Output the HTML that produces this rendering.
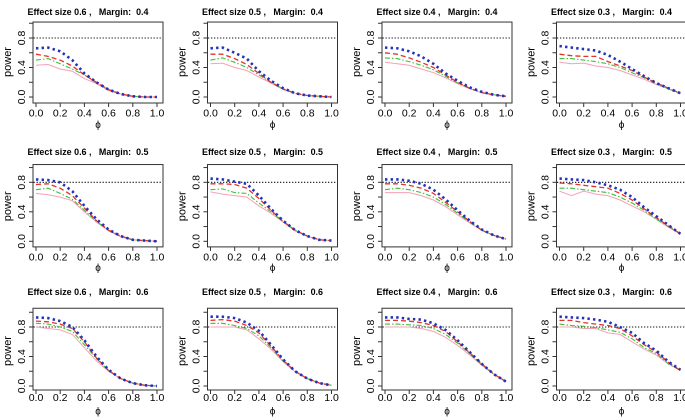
<!DOCTYPE html>
<html><head><meta charset="utf-8"><style>
html,body{margin:0;padding:0;background:#fff;}
svg{display:block;font-family:"Liberation Sans",Arial,sans-serif;}
.ttl{white-space:pre;}
</style></head><body>
<svg id="chart" width="685" height="420" viewBox="0 0 685 420" xmlns="http://www.w3.org/2000/svg"></svg>
<script>
const phiValues = [0,0.1,0.2,0.3,0.4,0.5,0.6,0.7,0.8,0.9,1.0];
const effectSizes = ["0.6","0.5","0.4","0.3"];
const margins = ["0.4","0.5","0.6"];
const xTicks = [0,0.2,0.4,0.6,0.8,1.0];
const xTickLabels = ["0.0","0.2","0.4","0.6","0.8","1.0"];
const yTicks = [0,0.2,0.4,0.6,0.8,1.0];
const yLabelTicks = [0,0.4,0.8];
const yTickLabels = ["0.0","0.4","0.8"];
const targetPower = 0.8;
// each panel: [blue, red, green, pink]
const p1 = [[.66,.67,.62,.5,.32,.2,.1,.04,.01,0,0],[.58,.55,.5,.42,.3,.2,.1,.04,.01,0,0],[.5,.52,.45,.38,.3,.19,.1,.04,.01,0,0],[.43,.44,.38,.35,.25,.18,.09,.04,.01,0,0]];
const p2 = [[.66,.67,.6,.52,.35,.22,.12,.05,.02,.01,0],[.58,.58,.52,.44,.32,.2,.11,.05,.02,.01,0],[.5,.53,.47,.4,.3,.2,.11,.05,.02,.01,0],[.45,.46,.4,.36,.27,.19,.1,.05,.02,.01,0]];
const p3 = [[.67,.66,.62,.55,.45,.32,.22,.13,.07,.03,.01],[.6,.58,.53,.47,.4,.3,.2,.12,.06,.03,.01],[.53,.52,.48,.43,.37,.28,.19,.12,.06,.03,.01],[.47,.45,.43,.38,.33,.26,.18,.11,.06,.03,.01]];
const p4 = [[.69,.67,.65,.63,.57,.48,.38,.28,.19,.12,.05],[.58,.56,.55,.55,.48,.42,.36,.27,.19,.12,.05],[.52,.52,.5,.48,.45,.4,.33,.26,.18,.11,.05],[.47,.45,.46,.42,.4,.36,.3,.24,.17,.11,.05]];
const p5 = [[.84,.83,.8,.68,.48,.3,.16,.07,.02,.01,0],[.77,.78,.72,.62,.45,.28,.15,.07,.02,.01,0],[.7,.72,.65,.57,.42,.27,.15,.07,.02,.01,0],[.65,.63,.6,.55,.4,.26,.14,.06,.02,.01,0]];
const p6 = [[.85,.84,.81,.78,.62,.44,.28,.15,.07,.02,.01],[.78,.78,.77,.72,.58,.42,.27,.15,.07,.02,.01],[.7,.71,.66,.65,.52,.4,.27,.15,.07,.02,.01],[.67,.64,.62,.6,.48,.38,.26,.14,.07,.02,.01]];
const p7 = [[.84,.84,.82,.78,.7,.57,.42,.28,.16,.08,.03],[.78,.78,.76,.72,.65,.53,.4,.27,.15,.08,.03],[.7,.72,.7,.66,.6,.5,.38,.26,.15,.08,.03],[.66,.66,.66,.62,.56,.47,.36,.25,.15,.08,.03]];
const p8 = [[.85,.84,.83,.8,.76,.7,.6,.46,.34,.22,.1],[.79,.78,.76,.74,.72,.65,.56,.44,.32,.21,.1],[.72,.72,.7,.68,.66,.6,.52,.42,.3,.2,.1],[.68,.62,.68,.64,.62,.56,.48,.4,.3,.19,.1]];
const p9 = [[.93,.92,.88,.8,.62,.4,.22,.1,.04,.01,0],[.88,.87,.84,.78,.6,.38,.21,.1,.04,.01,0],[.85,.84,.8,.74,.56,.37,.21,.1,.04,.01,0],[.8,.78,.76,.7,.52,.34,.2,.1,.04,.01,0]];
const p10 = [[.94,.94,.92,.86,.75,.56,.36,.2,.1,.04,.01],[.89,.9,.88,.82,.72,.54,.35,.2,.1,.04,.01],[.85,.85,.82,.78,.68,.52,.34,.2,.1,.04,.01],[.8,.8,.8,.76,.64,.5,.33,.19,.1,.04,.01]];
const p11 = [[.93,.93,.91,.9,.85,.76,.62,.46,.3,.16,.06],[.89,.89,.88,.86,.82,.74,.6,.45,.3,.16,.06],[.84,.84,.83,.82,.78,.7,.58,.44,.29,.16,.06],[.8,.8,.8,.78,.74,.66,.55,.42,.28,.16,.06]];
const p12 = [[.94,.93,.92,.9,.87,.8,.72,.58,.48,.33,.22],[.89,.89,.86,.84,.82,.78,.68,.56,.46,.32,.21],[.84,.82,.81,.79,.76,.73,.64,.52,.44,.3,.21],[.8,.8,.78,.78,.72,.7,.6,.5,.42,.3,.21]];
const panels = [p1,p2,p3,p4,p5,p6,p7,p8,p9,p10,p11,p12];
const seriesNames = ["blue-dotted","red-dashed","green-dotdash","pink-solid"];

const styles = [
  {stroke:"#2233bb",w:2.6,dash:"2.4,3.2"},
  {stroke:"#e8302a",w:1.3,dash:"5,3"},
  {stroke:"#3cbf3c",w:1.1,dash:"5,2,1.5,2"},
  {stroke:"#f7a0b4",w:1.0,dash:""}
];
const NS="http://www.w3.org/2000/svg";
const svg=document.getElementById('chart');
function mk(tag,attrs,parent){const e=document.createElementNS(NS,tag);for(const k in attrs)e.setAttribute(k,attrs[k]);(parent||svg).appendChild(e);return e;}
const colW=174.5, plotOff=[0,144.3,289], titleOff=[0,140,280];
const topPad=[1.2,3,4], botPad=[6,5.6,4], lblDy=[19.5,19.2,14.8], phiDy=[31,29.5,28.5];
panels.forEach((data,i)=>{
  const r=Math.floor(i/4), c=i%4;
  const ox=c*colW, oy=plotOff[r];
  const g=mk('g',{});
  
  
  const sx=v=>ox+36+v*121;
  const sy=v=>oy+97-v*73.75;
  const t=mk('text',{x:ox+88,y:titleOff[r]+15,'text-anchor':'middle','font-size':'9.5','font-weight':'bold','class':'ttl',textLength:'121',lengthAdjust:'spacingAndGlyphs'},g);
  t.textContent='Effect size '+effectSizes[c]+' ,   Margin:  '+margins[r];
  
  
  const top=sy(1)-topPad[r], bot=sy(0)+botPad[r];
  const box=mk('rect',{x:ox+33,y:top,width:130,height:bot-top,fill:'none',stroke:'#333','stroke-width':1},g);
  
  
  yTicks.forEach(v=>{mk('line',{x1:ox+33,x2:ox+29,y1:sy(v),y2:sy(v),stroke:'#333'},g);});
  yLabelTicks.forEach((v,k)=>{
    const tl=mk('text',{x:0,y:0,'font-size':'10.5','text-anchor':'middle',transform:`translate(${ox+25},${sy(v)}) rotate(-90)`},g);
    tl.textContent=yTickLabels[k];
    
    
  });
  xTicks.forEach((v,k)=>{
    mk('line',{x1:sx(v),x2:sx(v),y1:bot,y2:bot+4,stroke:'#333'},g);
    const tl=mk('text',{x:sx(v),y:sy(0)+lblDy[r],'font-size':'10.5','text-anchor':'middle'},g);
    tl.textContent=xTickLabels[k];
    
    
  });
  const xl=mk('text',{x:ox+98,y:sy(0)+phiDy[r],'font-size':'10','text-anchor':'middle'},g);
  xl.textContent='ϕ';
  
  
  const yl=mk('text',{x:0,y:0,'font-size':'11','text-anchor':'middle',transform:`translate(${ox+11},${oy+62}) rotate(-90)`},g);
  yl.textContent='power';
  
  
  const ref=mk('line',{x1:sx(-0.02),x2:sx(1.04),y1:sy(targetPower),y2:sy(targetPower),stroke:'#000','stroke-width':1.1,'stroke-dasharray':'1.2,1.8'},g);
  
  
  [3,2,1,0].forEach(s=>{
    const pts=phiValues.map((p,k)=>sx(p).toFixed(1)+','+sy(data[s][k]).toFixed(1)).join(' ');
    const pl=mk('polyline',{points:pts,fill:'none',stroke:styles[s].stroke,'stroke-width':styles[s].w,'stroke-dasharray':styles[s].dash},g);
    
    
  });
});
</script>
</body></html>
